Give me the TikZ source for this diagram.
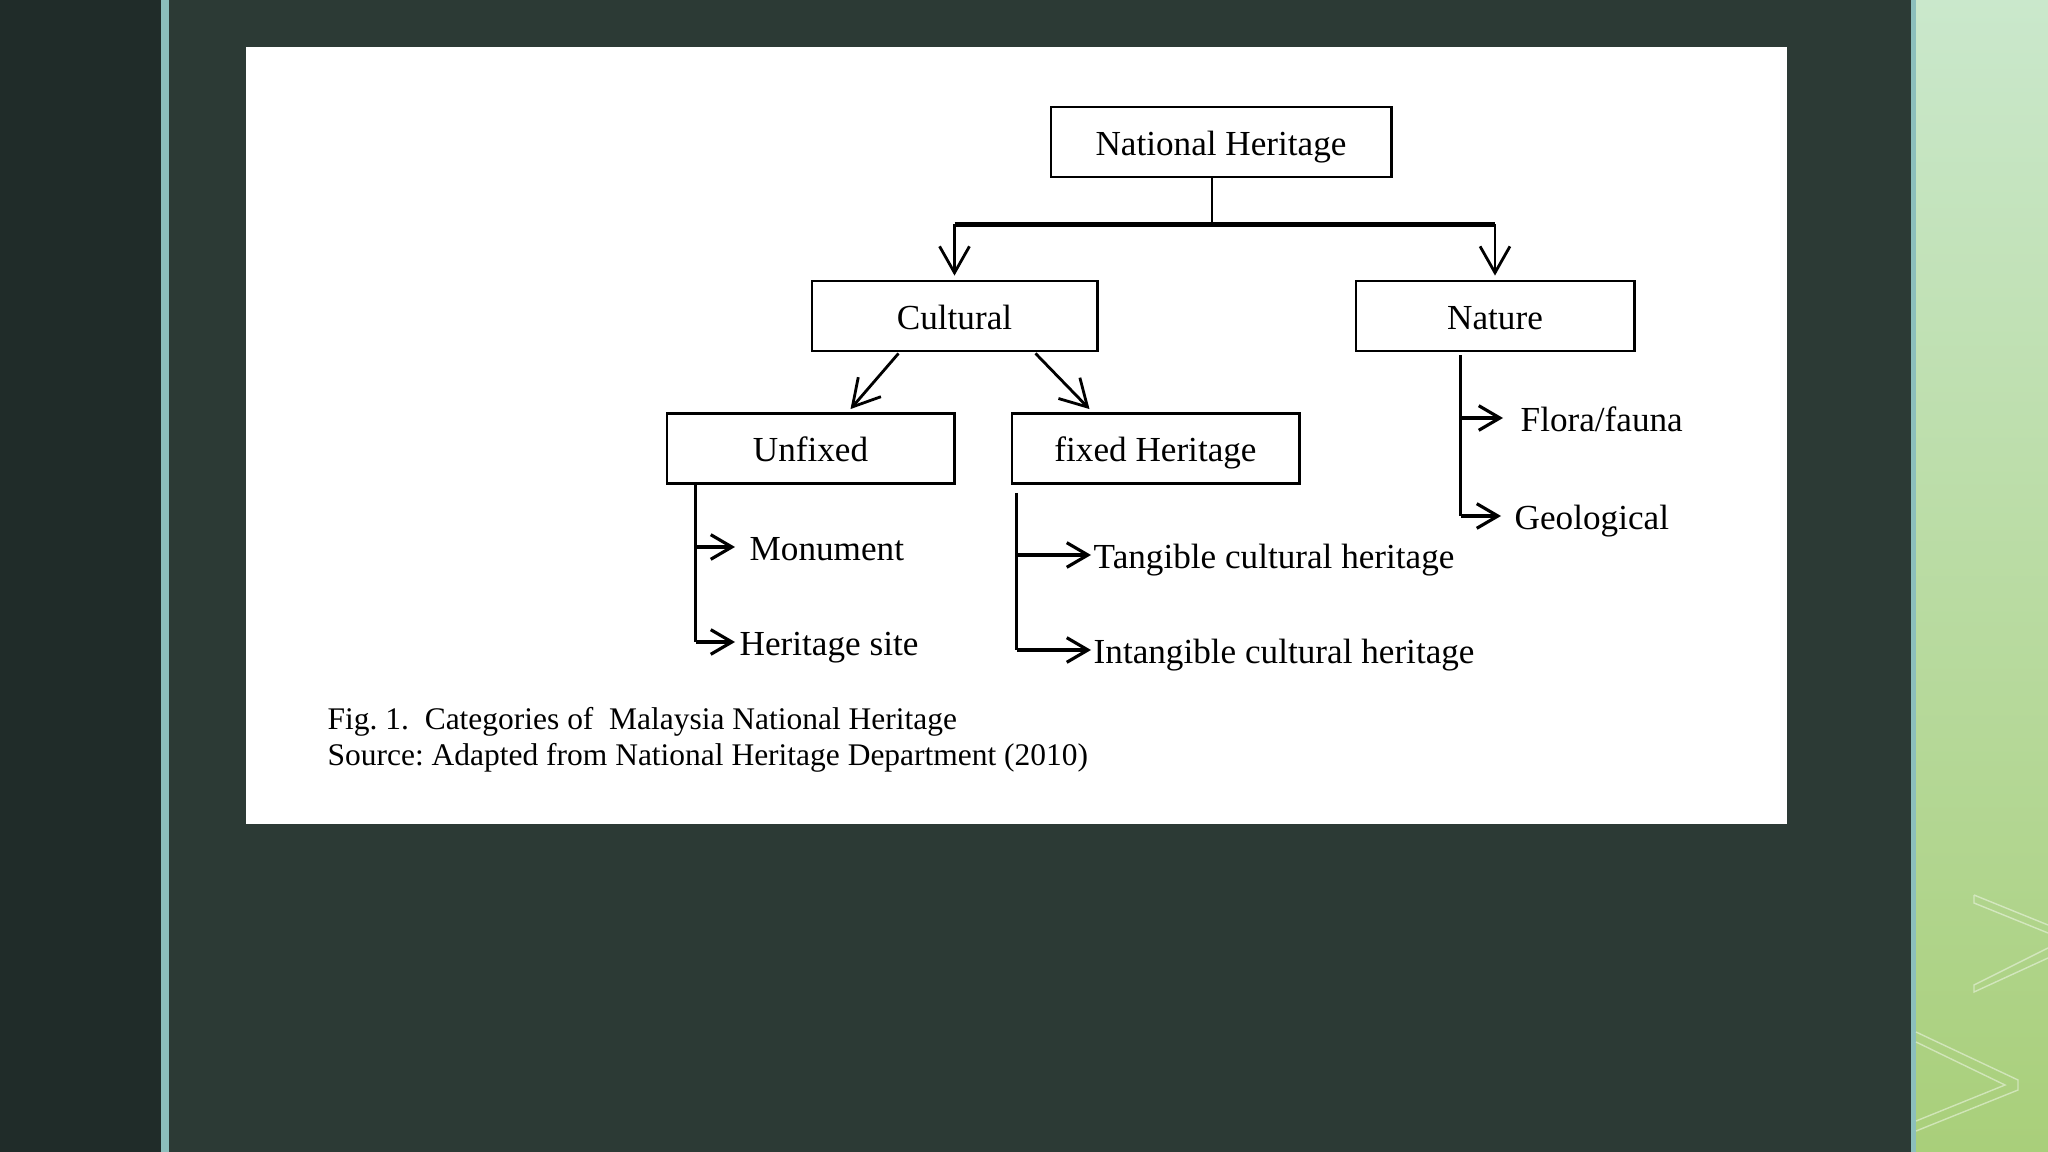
\documentclass[tikz,border=0pt]{standalone}
\usepackage{fontspec}
\setmainfont{Liberation Serif}
\usepackage{xcolor}
\usepackage{tikz}
\usetikzlibrary{arrows.meta,positioning,calc}
\frenchspacing
\definecolor{slidedark}{HTML}{202C29}
\definecolor{slidegreen}{HTML}{2C3A35}
\definecolor{slideteal}{HTML}{8CBFBC}
\definecolor{leafmint}{HTML}{CAE8CC}
\definecolor{leafgreen}{HTML}{B9DFA2}
\definecolor{leaflime}{HTML}{A9CF7A}
\tikzset{
  heritbox/.style={draw, line width=0.8pt, align=center, minimum height=0.70cm, inner sep=2pt, text height=8.6pt, text depth=1pt, font=\fontsize{10}{12}\selectfont},
  heritarrow/.style={-{Straight Barb[length=7.5pt,width=8.5pt,line width=0.8pt]}, line width=0.8pt},
  barline/.style={line width=1.4pt},
  stemline/.style={line width=0.8pt},
  leafline/.style={line width=0.6pt},
  leafarrow/.style={-{Straight Barb[length=6pt,width=7pt,line width=0.9pt]}, line width=0.9pt},
  leaftext/.style={anchor=west, inner sep=0pt, text height=8.4pt, text depth=1pt, font=\fontsize{10}{12}\selectfont},
  captiontext/.style={anchor=north west, align=left, inner sep=0pt, font=\fontsize{8.95}{10.2}\selectfont}
}
\begin{document}
\begin{tikzpicture}[x=0.01cm,y=-0.01cm]
\useasboundingbox (0,0) rectangle (2048,1152);
% slide background
\fill[slidedark] (0,0) rectangle (161,1152);
\fill[slideteal] (161,0) rectangle (169,1152);
\fill[slidegreen] (169,0) rectangle (1911,1152);
\fill[slideteal] (1911,0) rectangle (1916,1152);
\shade[top color=leafmint, middle color=leafgreen, bottom color=leaflime] (1916,0) rectangle (2048,1152);
\draw[white, opacity=0.45, line width=0.4pt] (1974,895) -- (2048,925) (1974,895) -- (1974,903) -- (2048,933)
  (2048,948) -- (1974,985) -- (1974,992) -- (2048,958);
\draw[white, opacity=0.45, line width=0.4pt] (1916,1032) -- (2018,1080) -- (2018,1090) -- (1916,1131)
  (1916,1042) -- (2005,1085) -- (1916,1121);
\fill[white] (246,47) rectangle (1787,824);

% boxes
\node[heritbox, minimum width=3.40cm] (nh) at (1221,142) {National Heritage};
\node[heritbox, minimum width=2.85cm] (cult) at (954.5,316) {Cultural};
\node[heritbox, minimum width=2.78cm] (nat) at (1495,316) {Nature};
\node[heritbox, minimum width=2.87cm] (unf) at (810.5,448.5) {Unfixed};
\node[heritbox, minimum width=2.87cm] (fix) at (1155.5,448.5) {fixed Heritage};

% leaves
\node[leaftext] (mon) at (749,547) {Monument};
\node[leaftext] (hsite) at (739,642) {Heritage site};
\node[leaftext] (tang) at (1093,555) {Tangible cultural heritage};
\node[leaftext] (intang) at (1093,650) {Intangible cultural heritage};
\node[leaftext] (flora) at (1520,418) {Flora/fauna};
\node[leaftext] (geo) at (1514,516) {Geological};

% caption
\node[captiontext] (cap) at (327,707) {Fig. 1.\ \ Categories of\ \ Malaysia National Heritage\\
Source: Adapted from National Heritage Department (2010)};

% top fork
\coordinate (fork) at ($(nh.south)+(-9,46)$);
\draw[stemline] (nh.south -| fork) -- (fork);
\draw[barline] (cult.north |- fork) -- (nat.north |- fork);
\draw[heritarrow, shorten >=0.04cm] (cult.north |- fork) -- (cult.north);
\draw[heritarrow, shorten >=0.04cm] (nat.north |- fork) -- (nat.north);

% cultural split
\draw[heritarrow] ($(cult.south)+(-56,1)$) -- ($(unf.north)+(40,-3)$);
\draw[heritarrow] ($(cult.south)+(81,1)$) -- ($(fix.north)+(-66,-3)$);

% unfixed
\coordinate (utop) at ($(unf.south west)+(30,0)$);
\draw[leafline] (utop) -- (utop |- hsite.west);
\draw[leafarrow, shorten >=0.14cm] (utop |- mon.west) -- (mon);
\draw[leafarrow, shorten >=0.04cm] (utop |- hsite.west) -- (hsite);

% fixed heritage
\coordinate (ftop) at ($(fix.south west)+(6,8)$);
\draw[leafline] (ftop) -- (ftop |- intang.west);
\draw[leafarrow, shorten >=0.02cm] (ftop |- tang.west) -- (tang);
\draw[leafarrow, shorten >=0.02cm] (ftop |- intang.west) -- (intang);

% nature
\coordinate (ntop) at ($(nat.south west)+(106,3)$);
\draw[leafline] (ntop) -- (ntop |- geo.west);
\draw[leafarrow, shorten >=0.17cm] (ntop |- flora.west) -- (flora);
\draw[leafarrow, shorten >=0.13cm] (ntop |- geo.west) -- (geo);
\end{tikzpicture}
\end{document}
